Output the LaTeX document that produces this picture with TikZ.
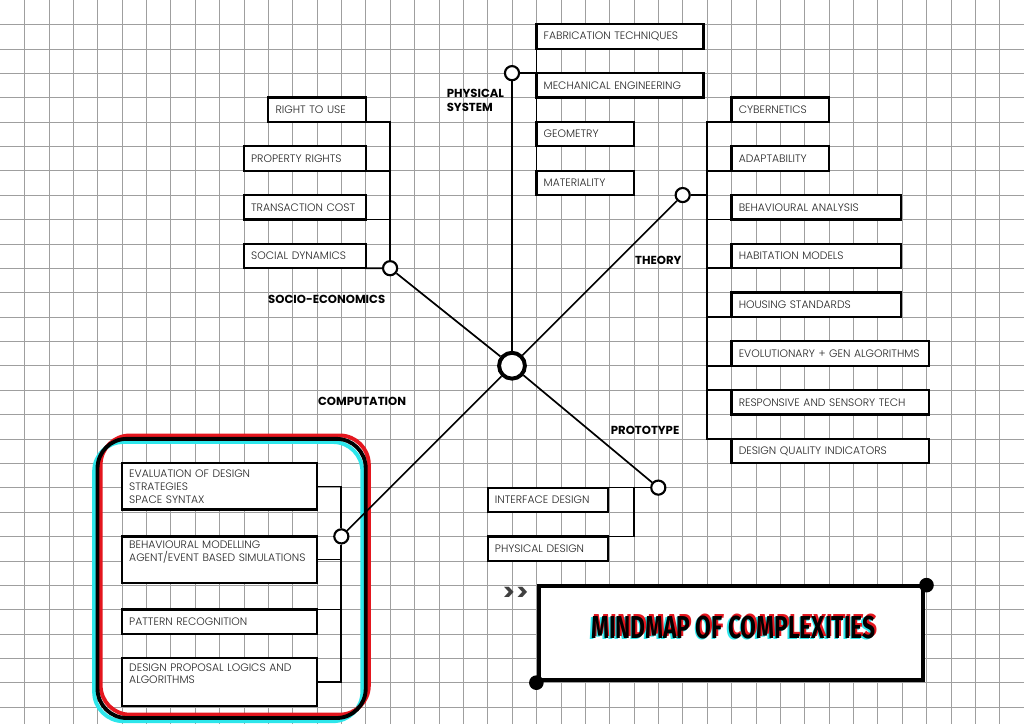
\documentclass[tikz,border=0pt]{standalone}
\usepackage{fontspec}
\setmainfont{Poppins}
\IfFontExistsTF{Poppins Light}{\newfontfamily\boxfont{Poppins Light}}{\newfontfamily\boxfont{Poppins}}
\newfontfamily\titlefont{Fira Sans}[FakeStretch=0.72]
\definecolor{glitchred}{RGB}{228,22,30}
\definecolor{glitchcyan}{RGB}{45,230,235}
\tikzset{
  itembase/.style={draw, fill=white, line width=2.6pt, minimum height=1cm, inner xsep=0.3cm, inner ysep=2pt,
    outer sep=0pt, align=left, anchor=north west, text=black!85, font=\boxfont\fontsize{12.6}{15}\selectfont},
  item/.code={\pgfmathsetmacro\itemtw{#1-0.6}\pgfkeysalso{itembase, minimum width=#1cm, text width=\itemtw cm}},
  hubnode/.style={circle, draw, fill=white, line width=4.6pt, minimum size=1.06cm, inner sep=0pt},
  knot/.style={circle, draw, fill=white, line width=2.5pt, minimum size=0.58cm, inner sep=0pt},
  link/.style={line width=2pt},
  head/.style={font=\bfseries\fontsize{13.6}{16.5}\selectfont},
  titletext/.style={font=\titlefont\bfseries\fontsize{37}{37}\selectfont}
}
\begin{document}
\begin{tikzpicture}[x=1cm, y=-1cm]
    \fill[white] (0,0) rectangle (42,29.7);
    \useasboundingbox (0,0) rectangle (42,29.7);
    \foreach \i in {1,...,41} \draw[gray!75, line width=0.6pt] (\i,0) -- (\i,29.7);
    \foreach \j in {1,...,29} \draw[gray!75, line width=0.6pt] (0,\j) -- (42,\j);

    \draw[glitchcyan, line width=4.5pt, rounded corners=1.2cm] (3.86,18.13) rectangle (14.86,29.58);
    \draw[glitchred, line width=4.5pt, rounded corners=1.2cm] (4.13,17.86) rectangle (15.13,29.31);
    \draw[line width=4.5pt, rounded corners=1.2cm] (4,18) rectangle (15,29.45);

    \node[hubnode] (hub) at (21,15) {};
    \node[knot] (phys) at (21,3) {};
    \node[knot] (socio) at (16,11) {};
    \node[knot] (theo) at (28,8) {};
    \node[knot] (proto) at (27,20) {};
    \node[knot] (comp) at (14,22) {};

    \node[item=4] (rtu) at (11,4) {RIGHT TO USE};
    \node[item=5] (prop) at (10,6) {PROPERTY RIGHTS};
    \node[item=5] (trans) at (10,8) {TRANSACTION COST};
    \node[item=5] (soc) at (10,10) {SOCIAL DYNAMICS};

    \node[item=6.85] (fab) at (22,1) {FABRICATION TECHNIQUES};
    \node[item=6.85] (mech) at (22,3) {MECHANICAL ENGINEERING};
    \node[item=4] (geom) at (22,5) {GEOMETRY};
    \node[item=4] (mat) at (22,7) {MATERIALITY};

    \node[item=4] (cyb) at (30,4) {CYBERNETICS};
    \node[item=4] (adapt) at (30,6) {ADAPTABILITY};
    \node[item=6.95] (behav) at (30,8) {BEHAVIOURAL ANALYSIS};
    \node[item=6.95] (habit) at (30,10) {HABITATION MODELS};
    \node[item=6.95] (house) at (30,12) {HOUSING STANDARDS};
    \node[item=8.1] (evol) at (30,14) {EVOLUTIONARY + GEN ALGORITHMS};
    \node[item=8.1] (resp) at (30,16) {RESPONSIVE AND SENSORY TECH};
    \node[item=8.1] (dqi) at (30,18) {DESIGN QUALITY INDICATORS};

    \node[item=4.95] (iface) at (20,20) {INTERFACE DESIGN};
    \node[item=4.95] (phd) at (20,22) {PHYSICAL DESIGN};

    \node[item=8, minimum height=1.9cm] (evds) at (5,19) {EVALUATION OF DESIGN\\STRATEGIES\\SPACE SYNTAX};
    \node[item=8, minimum height=1.9cm] (bmod) at (5,22) {BEHAVIOURAL MODELLING\\AGENT/EVENT BASED SIMULATIONS\\ \strut};
    \node[item=8] (patt) at (5,25) {PATTERN RECOGNITION};
    \node[item=8, minimum height=1.95cm] (dpla) at (5,27) {DESIGN PROPOSAL LOGICS AND\\ALGORITHMS\\ \strut};

    \node[head] (socl) at (13.4,12.3) {SOCIO-ECONOMICS};
    \node[head, align=left] (physl) at (19.5,4.1) {PHYSICAL\\SYSTEM};
    \node[head] (theol) at (27,10.7) {THEORY};
    \node[head] (protol) at (26.46,17.64) {PROTOTYPE};
    \node[head] (compl) at (14.85,16.48) {COMPUTATION};

    \draw[link] (hub) -- (phys);
    \draw[link] (hub) -- (socio);
    \draw[link] (hub) -- (theo);
    \draw[link] (hub) -- (proto);
    \draw[link] (hub) -- (comp);

    \draw[link] (phys) -- (phys -| fab.west);
    \draw[link] (fab.north west) -- (mat.south west);

    \draw[link] (rtu.south east) -| (socio);
    \draw[link] (prop.south east) -| (socio);
    \draw[link] (trans.south east) -| (socio);
    \draw[link] (soc.south east) -- (socio);

    \coordinate (tb) at (29,8);
    \draw[link] (theo) -- (tb);
    \foreach \n in {cyb,adapt,behav,habit,house,evol} \draw[link] (\n.south west) -| (tb);
    \foreach \n in {resp,dqi} \draw[link] (\n.north west) -| (tb);

    \coordinate (pb) at (26,20);
    \draw[link] (iface.north east) -- (proto);
    \draw[link] (phd.north east) -| (pb);

    \foreach \n in {evds,bmod,dpla} \draw[link] (\n.east) -| (comp);
    \draw[link] (patt.north east) -| (comp);

    \node[draw, fill=white, line width=5.2pt, minimum width=15.75cm, minimum height=3.85cm, inner sep=0pt] (ttl) at (29.98,25.96) {};
    \fill (38,24) circle (0.3);
    \fill (22,28) circle (0.3);
    \coordinate (tc) at (30.08,25.72);
    \node[titletext, text=glitchcyan] at ([xshift=-2pt, yshift=-2pt]tc) {MINDMAP OF COMPLEXITIES};
    \node[titletext, text=glitchred] at ([xshift=2pt, yshift=2pt]tc) {MINDMAP OF COMPLEXITIES};
    \node[titletext] (ttltext) at (tc) {MINDMAP OF COMPLEXITIES};
    \node[text=black!75, font=\bfseries\fontsize{27}{27}\selectfont] (more) at (21.15,24.35) {>\kern1pt>};
\end{tikzpicture}
\end{document}
